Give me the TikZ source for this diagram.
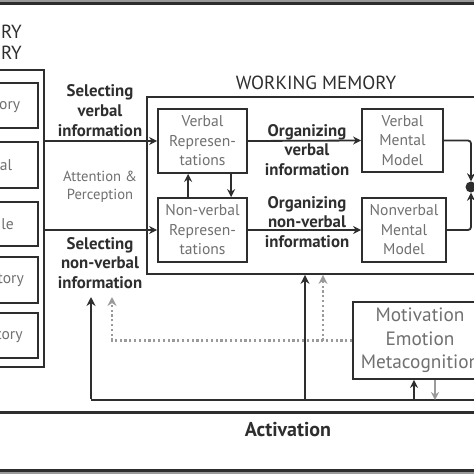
\documentclass[tikz,border=0pt]{standalone}
\usepackage{fontspec}
\setmainfont{PT Sans}
\usetikzlibrary{arrows.meta}
\definecolor{dk}{HTML}{2E2E2E}
\definecolor{gt}{HTML}{707070}
\definecolor{gl}{HTML}{9A9A9A}
\begin{document}
\begin{tikzpicture}[x=1pt,y=-1pt,
  box/.style={draw=dk, line width=1.8pt, inner sep=0pt, text=gt, align=center},
  btxt/.style={font=\fontsize{15.6}{19.5}\selectfont, text=gt},
  lbl/.style={font=\fontsize{16.8}{19.8}\selectfont\bfseries, text=dk, align=center, inner sep=0pt},
  arr/.style={draw=dk, line width=1.8pt, -{Stealth[length=8pt,width=8pt]}},
  actarr/.style={draw=dk, line width=2.6pt, -{Stealth[length=9pt,width=9pt]}},
  gdot/.style={draw=gl, line width=2.4pt, dash pattern=on 2.2pt off 2.6pt, -{Stealth[length=9pt,width=9pt,fill=gl]}},
]
\clip (0,0) rectangle (474,474);
\fill[white] (0,0) rectangle (474,474);
% frame lines
\fill[gl] (0,0) rectangle (474,2);
\fill[dk] (0,2) rectangle (474,4.5);
\fill[dk] (0,469) rectangle (474,471.5);
\fill[gl] (0,471.5) rectangle (474,474);

% sensory memory
\node[anchor=east, inner sep=0pt, font=\fontsize{19}{22}\selectfont, text=dk] (st1) at (22,32) {SENSORY};
\node[anchor=east, inner sep=0pt, font=\fontsize{19}{22}\selectfont, text=dk] (st2) at (22,53) {MEMORY};
\node[box, minimum width=104pt, minimum height=297pt] (sens) at (-8,218.5) {};
\node[box, btxt, minimum width=92pt, minimum height=45pt] (s1) at (-8,105.5) {Auditory};
\node[box, btxt, minimum width=92pt, minimum height=46pt] (s2) at (-8,165) {Visual};
\node[box, btxt, minimum width=92pt, minimum height=44pt] (s3) at (-8,224) {Tactile};
\node[box, btxt, minimum width=92pt, minimum height=46pt] (s4) at (-8,280) {Gustatory};
\node[box, btxt, minimum width=92pt, minimum height=45pt] (s5) at (-8,335.5) {Olfactory};

% working memory
\node[box, minimum width=353pt, minimum height=177pt] (wm) at (323.5,185.5) {};
\node[inner sep=0pt, font=\fontsize{19}{22}\selectfont, text=dk] (wmt) at (316,83) {WORKING MEMORY};
\node[box, btxt, minimum width=89pt, minimum height=64pt] (vr) at (202.5,141) {Verbal\\Represen-\\tations};
\node[box, btxt, minimum width=89pt, minimum height=64pt] (nr) at (202.5,230) {Non-verbal\\Represen-\\tations};
\node[box, btxt, minimum width=81pt, minimum height=63pt] (vmm) at (402.5,140.5) {Verbal\\Mental\\Model};
\node[box, btxt, minimum width=84pt, minimum height=64pt] (nmm) at (404,230) {Nonverbal\\Mental\\Model};
\node[circle, fill=dk, minimum size=11pt, inner sep=0pt] (dot) at (471,187) {};

% selecting
\draw[arr] (vr.west -| sens.east) -- (vr.west);
\draw[arr] (nr.west -| sens.east) -- (nr.west);
\node[lbl] (selv) at (100,110.5) {Selecting\\verbal\\information};
\node[lbl] (seln) at (100,263) {Selecting\\non-verbal\\information};
\node[inner sep=0pt, align=center, font=\fontsize{14.6}{18}\selectfont, text=gt] (att) at (100,187) {Attention \&\\Perception};

% between representations
\draw[arr] ([xshift=31pt]nr.north west) -- ([xshift=31pt]vr.south west);
\draw[arr] ([xshift=74pt]vr.south west) -- ([xshift=74pt]nr.north west);

% organizing
\draw[arr] (vr.east) -- (vmm.west);
\draw[arr] (nr.east) -- (nmm.west);
\node[lbl] (orgv) at (307,150) {Organizing\\verbal\\information};
\node[lbl] (orgn) at (307,222) {Organizing\\non-verbal\\information};

% integration
\draw[arr, rounded corners=3pt] (vmm.east) -| (dot.north);
\draw[arr, rounded corners=3pt] (nmm.east) -| (dot.south);

% motivation box
\node[box, minimum width=134pt, minimum height=77pt, font=\fontsize{19.3}{23.5}\selectfont] (mot) at (420,340.5) {Motivation\\Emotion\\Metacognition};

% activation
\coordinate (aL) at (91,400);
\coordinate (aR) at (480,400);
\coordinate (a1) at (91,297);
\coordinate (g1) at (112,297);
\coordinate (gc) at (112,340.5);
\draw[dk, line width=2.6pt] (aL) -- (aR);
\draw[actarr] ([yshift=1.3pt]aL) -- (a1);
\draw[actarr] (305,400) -- (wm.south -| 305,0);
\draw[arr] (414,400) -- (mot.south -| 414,0);
\draw[draw=gl, line width=1.8pt, -{Stealth[length=8pt,width=8pt,fill=gl]}] (mot.south -| 435,0) -- (435,400);
\draw[gdot] (mot.west) -- (gc) -- (g1);
\draw[gdot] (323,340.5) -- (wm.south -| 323,0);

\draw[dk, line width=3pt] (0,412.5) -- (474,412.5);
\node[inner sep=0pt, font=\fontsize{20}{22}\selectfont\bfseries, text=dk] (act) at (288,430) {Activation};
\end{tikzpicture}
\end{document}
